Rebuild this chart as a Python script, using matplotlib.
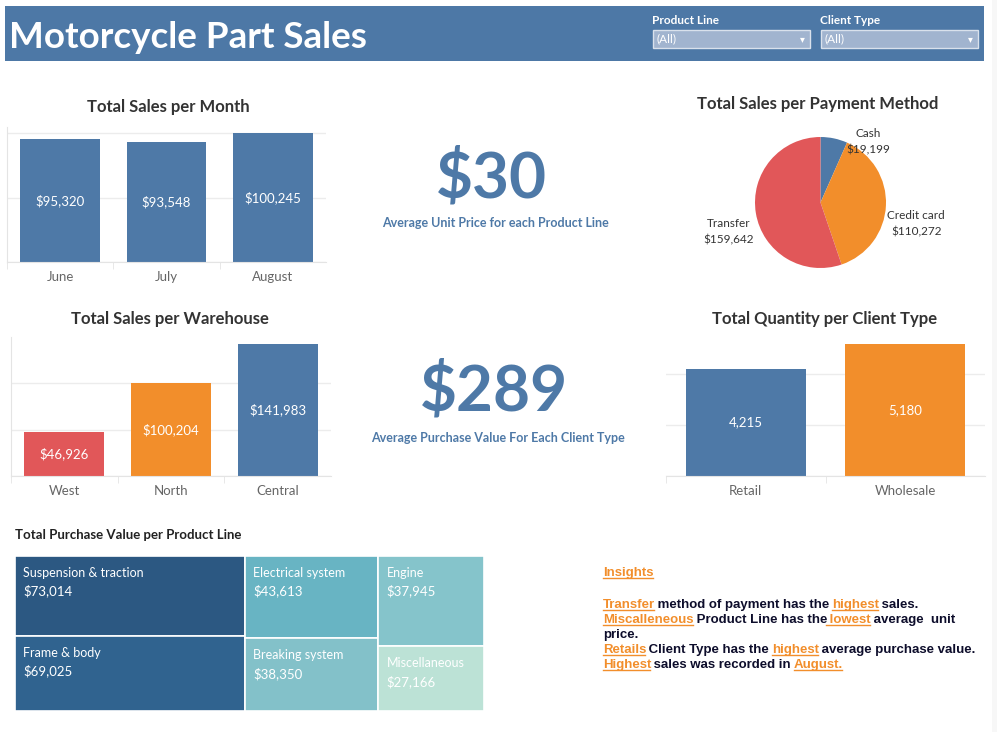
import matplotlib
matplotlib.use("Agg")
import matplotlib.pyplot as plt
from matplotlib.patches import Rectangle
from matplotlib.font_manager import FontProperties

W, H = 997, 732

# ---- data ----
months = ["June", "July", "August"]
month_sales = [95320, 93548, 100245]

warehouses = ["West", "North", "Central"]
warehouse_sales = [46926, 100204, 141983]

client_types = ["Retail", "Wholesale"]
client_qty = [4215, 5180]

pay_methods = ["Cash", "Credit card", "Transfer"]
pay_sales = [19199, 110272, 159642]

product_lines = ["Suspension & traction", "Frame & body", "Electrical system",
                 "Breaking system", "Engine", "Miscellaneous"]
product_value = [73014, 69025, 43613, 38350, 37945, 27166]

avg_unit_price = 30
avg_purchase_value = 289

BLUE = "#4e79a7"
ORANGE = "#f28e2b"
RED = "#e15759"
FONT = ["Lato", "DejaVu Sans"]
plt.rcParams["font.family"] = FONT

fig = plt.figure(figsize=(W / 100, H / 100), dpi=100)


def px_axes(x0, y0, x1, y1):
    # axes from pixel box (top-left origin)
    return fig.add_axes([x0 / W, 1 - y1 / H, (x1 - x0) / W, (y1 - y0) / H])


# background layer in pixel coordinates
bg = px_axes(0, 0, W, H)
bg.set_xlim(0, W)
bg.set_ylim(H, 0)
bg.axis("off")

# header
bg.add_patch(Rectangle((5, 6), 979, 55, color="#4d78a6", lw=0))
bg.add_patch(Rectangle((992, 0), 5, H, color="#f7f7f7", lw=0))
bg.text(9, 37, "Motorcycle Part Sales", color="white", fontsize=26.5,
        fontweight="bold", va="center", ha="left")
for x0, lab in [(652, "Product Line"), (820, "Client Type")]:
    bg.text(x0, 20, lab, color="white", fontsize=8.5, fontweight="bold", va="center")
    bg.add_patch(Rectangle((x0 + 1, 29.5), 157, 18, facecolor="#a1b4cf",
                           edgecolor="#d9e1ec", lw=1))
    bg.text(x0 + 4, 39, "(All)", color="white", fontsize=8.5, va="center")
    bg.text(x0 + 148, 39, "▾", color="white", fontsize=7, va="center",
            family="DejaVu Sans")


def bar_panel(box, cats, vals, colors, ymax, grid, labels, left_spine=True):
    ax = px_axes(*box)
    ax.set_facecolor("none")
    bars = ax.bar(range(len(cats)), vals, width=0.75, color=colors, zorder=2)
    ax.set_xlim(-0.5, len(cats) - 0.5)
    ax.set_ylim(0, ymax)
    ax.set_yticks(grid)
    ax.yaxis.grid(True, color="#ececec", lw=1)
    ax.tick_params(axis="y", length=0, labelleft=False)
    ax.set_xticks(range(len(cats)), cats)
    ax.set_xticks([i - 0.5 for i in range(len(cats))], minor=True)
    ax.tick_params(axis="x", which="major", length=0, colors="#666666",
                   labelsize=9.5, pad=6.5)
    ax.tick_params(axis="x", which="minor", length=5, color="#e4e4e4")
    for s in ["top", "right"]:
        ax.spines[s].set_visible(False)
    ax.spines["bottom"].set_color("#e4e4e4")
    ax.spines["left"].set_color("#e4e4e4")
    ax.spines["left"].set_visible(left_spine)
    ax.bar_label(bars, labels=labels, label_type="center", color="white",
                 fontsize=9.5)
    return ax


def panel_title(x, y, s, size=12):
    bg.text(x, y, s, fontsize=size, fontweight="bold", color="#333333",
            ha="center", va="center")


# Total Sales per Month
panel_title(168, 107, "Total Sales per Month")
bar_panel((7, 127, 326, 262), months, month_sales, [BLUE] * 3, 104900,
          [0, 50000, 100000], [f"${v:,}" for v in month_sales])

# Total Sales per Warehouse
panel_title(170, 319, "Total Sales per Warehouse")
bar_panel((11, 337, 331, 476), warehouses, warehouse_sales, [RED, ORANGE, BLUE],
          149500, [0, 50000, 100000], [f"${v:,}" for v in warehouse_sales])

# Total Quantity per Client Type
panel_title(825, 319, "Total Quantity per Client Type")
bar_panel((666, 337, 985, 476), client_types, client_qty, [BLUE, ORANGE],
          5455, [0, 2000, 4000], [f"{v:,}" for v in client_qty], left_spine=False)

# KPIs
bg.text(491, 178, f"${avg_unit_price}", fontsize=46, fontweight="bold",
        color=BLUE, ha="center", va="center")
bg.text(495, 223, "Average Unit Price for each Product Line", fontsize=9,
        fontweight="bold", color=BLUE, ha="center", va="center")
bg.text(494, 391, f"${avg_purchase_value}", fontsize=46, fontweight="bold",
        color=BLUE, ha="center", va="center")
bg.text(498, 438, "Average Purchase Value For Each Client Type", fontsize=9,
        fontweight="bold", color=BLUE, ha="center", va="center")

# Pie
panel_title(818, 104, "Total Sales per Payment Method")
pax = px_axes(755, 137, 886, 268)
pax.pie(pay_sales, colors=[BLUE, ORANGE, RED], startangle=90,
        counterclock=False, radius=1)
pax.set_xlim(-1, 1)
pax.set_ylim(-1, 1)
label_pos = [(0.73, 0.93), (1.46, -0.32), (-1.40, -0.44)]
for name, val, (lx, ly) in zip(pay_methods, pay_sales, label_pos):
    pax.text(lx, ly, f"{name}\n${val:,}", ha="center", va="center",
             fontsize=8.5, color="#333333", linespacing=1.6)

# Treemap
bg.text(15, 535, "Total Purchase Value per Product Line", fontsize=9.5,
        fontweight="bold", color="#222222", va="center")
tax = px_axes(15, 556, 484, 711)
tax.set_xlim(0, 1)
tax.set_ylim(1, 0)
tax.axis("off")
tm_colors = ["#2c5882", "#30638f", "#68b4c3", "#83c1c9", "#85c4cb", "#bce2d6"]
columns = [[0, 1], [2, 3], [4, 5]]
total = sum(product_value)
x = 0
for col in columns:
    col_sum = sum(product_value[i] for i in col)
    w = col_sum / total
    y = 0
    for i in col:
        h = product_value[i] / col_sum
        tax.add_patch(Rectangle((x, y), w, h, facecolor=tm_colors[i],
                                edgecolor="white", lw=1.2))
        tax.annotate(product_lines[i], (x, y), xytext=(8, -17),
                     textcoords="offset pixels", color="white", fontsize=9,
                     va="center")
        tax.annotate(f"${product_value[i]:,}", (x, y), xytext=(8, -35),
                     textcoords="offset pixels", color="white", fontsize=9.5,
                     va="center")
        y += h
    x += w

# Insights (rich text)
ins_font = FontProperties(family=["Liberation Sans", "DejaVu Sans"],
                          weight="bold", size=9.5)
fig.canvas.draw()
renderer = fig.canvas.get_renderer()


def width_px(s):
    w1, _, _ = renderer.get_text_width_height_descent(s + "|", ins_font, ismath=False)
    w2, _, _ = renderer.get_text_width_height_descent("|", ins_font, ismath=False)
    return w1 - w2 - 1


DARK = "#0d0d2b"
insight_lines = [
    [("Insights", True)],
    [],
    [("Transfer", True), (" method of payment has the ", False),
     ("highest", True), (" sales.", False)],
    [("Miscalleneous", True), (" Product Line has the", False),
     (" lowest", True), (" average  unit", False)],
    [("price.", False)],
    [("Retails", True), (" Client Type has the ", False),
     ("highest", True), (" average purchase value.", False)],
    [("Highest", True), (" sales was recorded in ", False), ("August.", True)],
]
baselines = [576, 593, 608, 623, 638, 653, 668]
for segs, yb in zip(insight_lines, baselines):
    xc = 603
    for txt, hi in segs:
        bg.text(xc, yb, txt, fontproperties=ins_font, va="baseline", ha="left",
                color=ORANGE if hi else DARK)
        wpx = width_px(txt)
        if hi:
            bg.plot([xc, xc + wpx], [yb + 2, yb + 2], color=ORANGE, lw=1)
        xc += wpx

fig.savefig("out.png", dpi=100)
